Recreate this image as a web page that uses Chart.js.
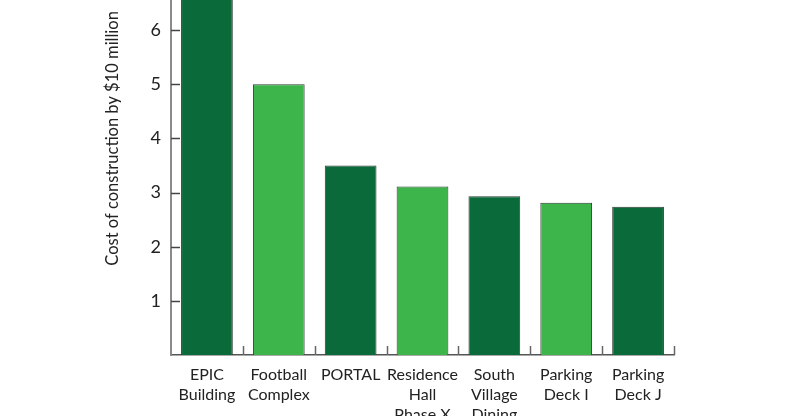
<!DOCTYPE html>
<html>
<head>
<meta charset="utf-8">
<script src="https://cdn.jsdelivr.net/npm/chart.js@4/dist/chart.umd.min.js"></script>
<style>
  html, body { margin: 0; padding: 0; background: #fff; overflow: hidden; }
  #wrap { position: absolute; left: 0; top: -99px; width: 792px; height: 534px; }
</style>
</head>
<body>
<div id="wrap"><canvas id="mycanvas" width="792" height="534"></canvas></div>
<script>
// projects and their cost (units of $10 million)
var projects = [
	["EPIC", "Building"],
	["Football", "Complex"],
	["PORTAL"],
	["Residence", "Hall", "Phase X"],
	["South", "Village", "Dining"],
	["Parking", "Deck I"],
	["Parking", "Deck J"]
];
var cost_values = [7.4, 5.0, 3.5, 3.11, 2.93, 2.81, 2.74];
var y_ticks = [0, 1, 2, 3, 4, 5, 6, 7, 8];

var darkGreen = "#0a6a3a";
var lightGreen = "#3db54b";
var barColors = [darkGreen, lightGreen, darkGreen, lightGreen, darkGreen, lightGreen, darkGreen];

// short tick marks drawn inside the plot
var innerTicks = {
	id: "innerTicks",
	afterDatasetsDraw: function(chart) {
		var ctx = chart.ctx;
		var x = chart.scales.x;
		var y = chart.scales.y;
		ctx.save();
		ctx.lineWidth = 1.5;
		ctx.strokeStyle = "#444";
		for (var i = 1; i < y_ticks.length; i++) {
			var py = Math.round(y.getPixelForValue(y_ticks[i])) + 0.5;
			ctx.beginPath();
			ctx.moveTo(x.left, py);
			ctx.lineTo(x.left + 9, py);
			ctx.stroke();
		}
		ctx.strokeStyle = "#666";
		var step = x.width / projects.length;
		for (var j = 1; j <= projects.length; j++) {
			var px = Math.round(x.left + j * step) + 0.5;
			ctx.beginPath();
			ctx.moveTo(px, y.bottom);
			ctx.lineTo(px, y.bottom - 9);
			ctx.stroke();
		}
		ctx.restore();
	}
};

var ctx = document.getElementById("mycanvas");

var BarGraph = new Chart(ctx, {
	type: "bar",
	data: {
		labels: projects,
		datasets: [
			{
				label: "cost",
				data: cost_values,
				backgroundColor: barColors,
				borderColor: "#2b3b30",
				borderWidth: 1,
				barPercentage: 0.72,
				categoryPercentage: 1.0
			}
		]
	},
	options: {
		responsive: false,
		animation: false,
		layout: { padding: { top: 20, right: 118, bottom: 0, left: 0 } },
		plugins: {
			legend: { display: false },
			tooltip: { enabled: false }
		},
		scales: {
			x: {
				grid: { display: false, drawTicks: false },
				border: { display: true, color: "#555", width: 1.5 },
				ticks: {
					color: "#222",
					padding: 10,
					maxRotation: 0,
					autoSkip: false,
					font: { family: "Lato", size: 16, lineHeight: 1.25 }
				},
				afterFit: function(scale) { scale.height = 80; }
			},
			y: {
				min: 0,
				max: 8,
				grid: { display: false, drawTicks: false },
				border: { display: true, color: "#8a8a8a", width: 2 },
				afterBuildTicks: function(scale) {
					scale.ticks = y_ticks.map(function(v) { return { value: v }; });
				},
				ticks: {
					color: "#222",
					padding: 10,
					font: { family: "Lato", size: 18 },
					callback: function(v) { return v === 0 ? "" : v; }
				},
				title: {
					display: true,
					text: "Cost of construction by $10 million",
					color: "#222",
					font: { family: "Lato", size: 16.5, lineHeight: 1.2 },
					padding: { top: 103, bottom: 0 }
				},
				afterFit: function(scale) { scale.width = 171; }
			}
		}
	},
	plugins: [innerTicks]
});
</script>
</body>
</html>
